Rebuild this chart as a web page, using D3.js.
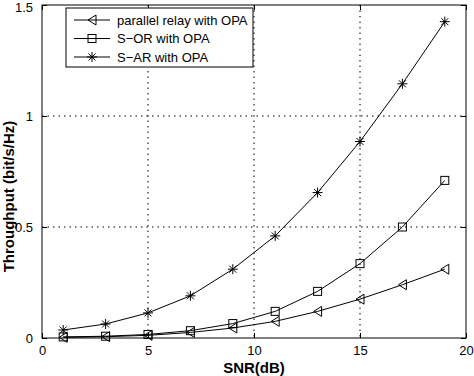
<!DOCTYPE html>
<html>
<head>
<meta charset="utf-8">
<script src="https://cdn.jsdelivr.net/npm/d3@7"></script>
<style>
body { margin: 0; background: #fff; }
svg text { font-family: "Liberation Sans", Arial, sans-serif; }
</style>
</head>
<body>
<div id="chart"></div>
<script>
var snr = [1, 3, 5, 7, 9, 11, 13, 15, 17, 19];
var parallelRelay = [0.003, 0.006, 0.012, 0.025, 0.045, 0.075, 0.12, 0.175, 0.24, 0.31];
var sOR = [0.005, 0.008, 0.016, 0.033, 0.065, 0.12, 0.21, 0.335, 0.50, 0.71];
var sAR = [0.036, 0.063, 0.113, 0.19, 0.31, 0.46, 0.655, 0.885, 1.145, 1.425];
var seriesNames = ["parallel relay with OPA", "S\u2212OR with OPA", "S\u2212AR with OPA"];
var xTicks = [0, 5, 10, 15, 20];
var yTicks = [0, 0.5, 1, 1.5];

var margin = {top: 5, right: 8, bottom: 38, left: 42},
	width = 474 - margin.left - margin.right,
	height = 376 - margin.top - margin.bottom;

var svg = d3.select("#chart").append("svg")
	.attr("width", 474)
	.attr("height", 376);

var g = svg.append("g")
	.attr("transform", "translate(" + margin.left + "," + margin.top + ")");

var x = d3.scaleLinear().domain([0, 20]).range([0, width]);
var y = d3.scaleLinear().domain([0, 1.5]).range([height, 0]);

// dotted grid
g.selectAll(".vgrid")
	.data(xTicks.slice(1, -1))
	.enter().append("line")
		.attr("x1", d => x(d)).attr("x2", d => x(d))
		.attr("y1", 0).attr("y2", height)
		.attr("stroke", "#000").attr("stroke-width", 1)
		.attr("stroke-dasharray", "1.5,4");
g.selectAll(".hgrid")
	.data(yTicks.slice(1, -1))
	.enter().append("line")
		.attr("y1", d => y(d)).attr("y2", d => y(d))
		.attr("x1", 0).attr("x2", width)
		.attr("stroke", "#000").attr("stroke-width", 1)
		.attr("stroke-dasharray", "1.5,4");

// frame
g.append("rect")
	.attr("width", width).attr("height", height)
	.attr("fill", "none").attr("stroke", "#000").attr("stroke-width", 1);

// axes with inward ticks
var xAxis = g.append("g")
	.attr("transform", "translate(0," + height + ")")
	.call(d3.axisBottom(x).tickValues(xTicks).tickSizeInner(-5).tickSizeOuter(0).tickPadding(8));
var yAxis = g.append("g")
	.call(d3.axisLeft(y).tickValues(yTicks).tickFormat(d3.format("")).tickSizeInner(-5).tickSizeOuter(0).tickPadding(9));
[xAxis, yAxis].forEach(function (a) {
	a.select(".domain").remove();
	a.selectAll("text").attr("font-size", "13px").attr("fill", "#000")
		.attr("font-family", "Liberation Sans, Arial, sans-serif");
});
yAxis.selectAll(".tick").filter(d => d == 1.5).select("text").attr("dy", "0.5em");
// matching ticks on top/right
g.append("g").call(d3.axisTop(x).tickValues(xTicks).tickSizeInner(-5).tickSizeOuter(0).tickFormat(""))
	.select(".domain").remove();
g.append("g").attr("transform", "translate(" + width + ",0)")
	.call(d3.axisRight(y).tickValues(yTicks).tickSizeInner(-5).tickSizeOuter(0).tickFormat(""))
	.select(".domain").remove();

// markers
function drawMarker(sel, type) {
	if (type == "tri") {
		sel.append("path").attr("d", "M-4,0L4,-5L4,5Z")
			.attr("fill", "none").attr("stroke", "#000").attr("stroke-width", 1);
	} else if (type == "sq") {
		sel.append("rect").attr("x", -4).attr("y", -4).attr("width", 8).attr("height", 8)
			.attr("fill", "none").attr("stroke", "#000").attr("stroke-width", 1);
	} else {
		sel.append("path").attr("d", "M-5,0H5M0,-5V5M-3.5,-3.5L3.5,3.5M-3.5,3.5L3.5,-3.5")
			.attr("stroke", "#000").attr("stroke-width", 1);
	}
}

var seriesData = [parallelRelay, sOR, sAR];
var markerTypes = ["tri", "sq", "star"];
var line = d3.line().x(d => x(d[0])).y(d => y(d[1])).curve(d3.curveLinear);

for (var s = 0; s < seriesData.length; s++) {
	var pts = snr.map((v, i) => [v, seriesData[s][i]]);
	g.append("path")
		.datum(pts)
		.attr("d", line)
		.attr("fill", "none").attr("stroke", "#000").attr("stroke-width", 1);
	for (var i = 0; i < pts.length; i++) {
		var m = g.append("g").attr("transform", "translate(" + x(pts[i][0]) + "," + y(pts[i][1]) + ")");
		drawMarker(m, markerTypes[s]);
	}
}

// legend
var legend = g.append("g").attr("transform", "translate(" + (66 - margin.left) + "," + (8 - margin.top) + ")");
legend.append("rect")
	.attr("width", 187).attr("height", 59)
	.attr("fill", "#fff").attr("stroke", "#000").attr("stroke-width", 1);
for (var k = 0; k < seriesNames.length; k++) {
	var ly = 12 + k * 18.5;
	legend.append("line").attr("x1", 8).attr("x2", 44).attr("y1", ly).attr("y2", ly)
		.attr("stroke", "#000").attr("stroke-width", 1);
	drawMarker(legend.append("g").attr("transform", "translate(26," + ly + ")"), markerTypes[k]);
	legend.append("text")
		.attr("x", 51).attr("y", ly + 4.5)
		.attr("font-size", "13px")
		.text(seriesNames[k]);
}

// axis labels
svg.append("text")
	.attr("x", margin.left + width / 2).attr("y", 373)
	.attr("text-anchor", "middle")
	.attr("font-size", "15px").attr("font-weight", "bold")
	.text("SNR(dB)");
svg.append("text")
	.attr("transform", "translate(14," + (margin.top + height / 2 + 25) + ") rotate(-90)")
	.attr("text-anchor", "middle")
	.attr("font-size", "15px").attr("font-weight", "bold")
	.text("Throughput (bit/s/Hz)");
</script>
</body>
</html>
